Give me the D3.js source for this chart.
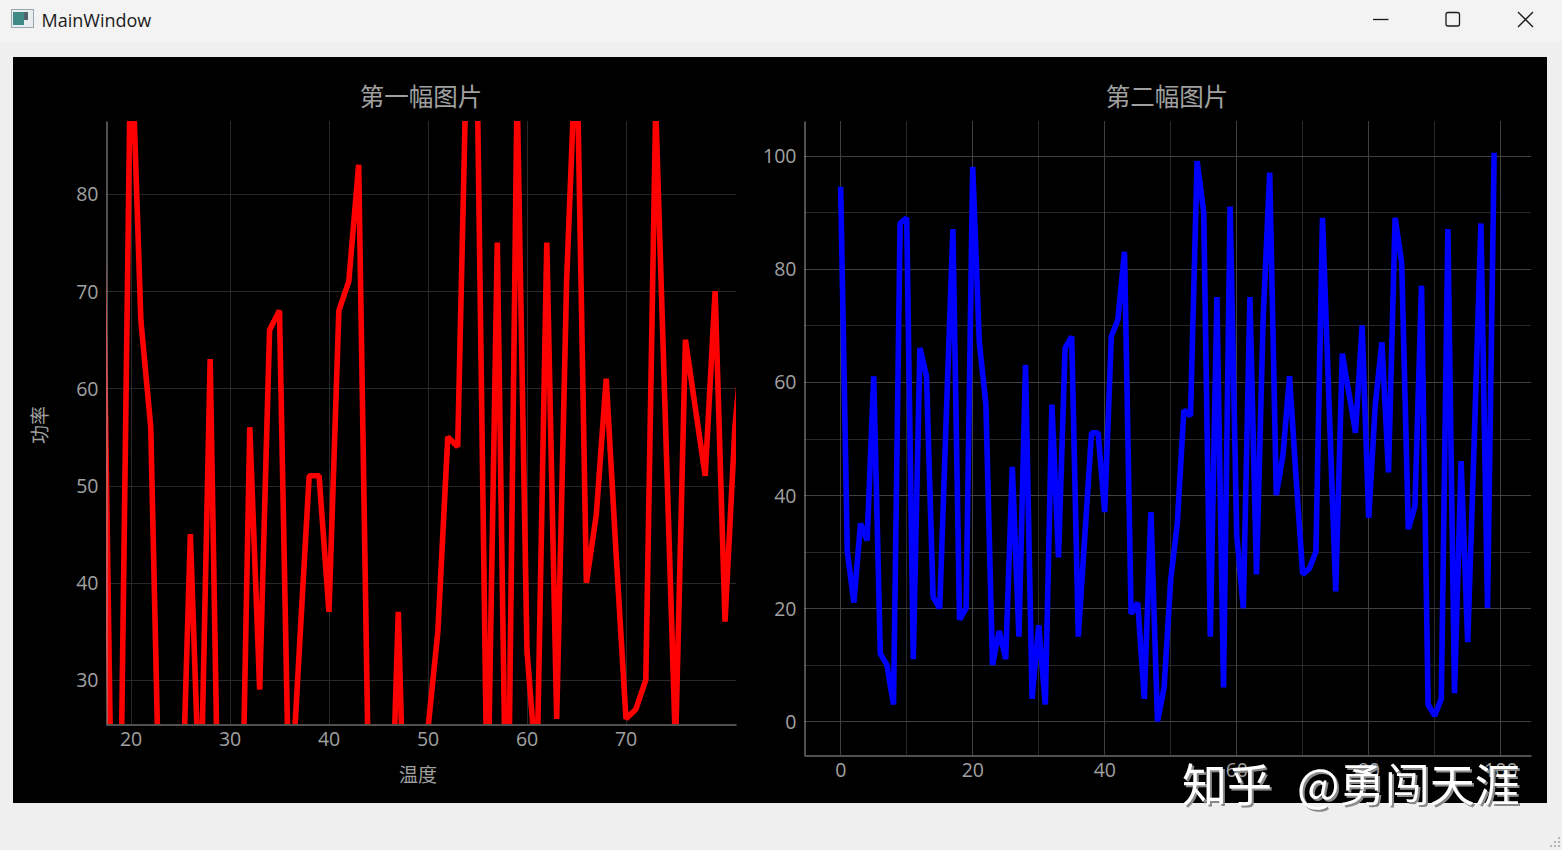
<!DOCTYPE html>
<html>
<head>
<meta charset="utf-8">
<script src="https://cdn.jsdelivr.net/npm/d3@7/dist/d3.min.js"></script>
<style>
html,body{margin:0;padding:0;background:#f0f0f0;overflow:hidden}
svg{display:block}
text{font-family:"Open Sans","Noto Sans CJK SC",sans-serif}
.cjk{font-family:"Noto Sans CJK SC",sans-serif;font-weight:400}
</style>
</head>
<body>
<svg id="c" width="1562" height="850"></svg>
<script>
const windowTitle = "MainWindow";
const titles = ["第一幅图片", "第二幅图片"];
const xLabel = "温度";
const yLabel = "功率";
const watermark = "知乎 @勇闯天涯";
const power = [94,30,21,35,32,61,12,10,3,88,89,11,66,61,22,20,54,87,18,20,
  98,67,56,10,16,11,45,15,63,4,17,3,56,29,66,68,15,33,51,51,
  37,68,71,83,19,21,4,37,0,6,25,35,55,54,99,90,15,75,6,91,
  33,20,75,26,71,97,40,47,61,43,26,27,30,89,56,23,65,58,51,70,
  36,56,67,44,89,81,34,38,77,3,1,4,87,5,46,14,50,88,20,100];
const temperature = power.map((_, i) => i);
const leftXTicks = [20,30,40,50,60,70];
const leftYTicks = [30,40,50,60,70,80];
const rightXMajor = [0,20,40,60,80,100];
const rightXMinor = [10,30,50,70,90];
const rightYMajor = [0,20,40,60,80,100];
const rightYMinor = [10,30,50,70,90];

const svg = d3.select("#c");
const FG = "#a0a0a0";

// window chrome
svg.append("rect").attr("width",1562).attr("height",850).attr("fill","#efefef");
svg.append("rect").attr("width",1562).attr("height",42).attr("fill","#f3f3f3");
svg.append("rect").attr("x",13).attr("y",57).attr("width",1534).attr("height",746).attr("fill","#000");
const icon = svg.append("g");
icon.append("rect").attr("x",11.5).attr("y",9.5).attr("width",22).attr("height",18).attr("fill","#e8eef0").attr("stroke","#9aa7ad");
icon.append("rect").attr("x",13).attr("y",12).attr("width",11).attr("height",13).attr("fill","#3f8a86");
icon.append("rect").attr("x",24).attr("y",12).attr("width",4).attr("height",8).attr("fill","#54606a");
svg.append("text").attr("x",41.5).attr("y",26.5).attr("font-size",18).attr("fill","#1a1a1a").text(windowTitle);
const btn = svg.append("g").attr("stroke","#1a1a1a").attr("fill","none").attr("stroke-width",1.3);
btn.append("line").attr("x1",1373).attr("x2",1388.5).attr("y1",19.5).attr("y2",19.5);
btn.append("rect").attr("x",1446).attr("y",12.5).attr("width",13.5).attr("height",13.5).attr("rx",2);
btn.append("line").attr("x1",1518).attr("y1",12).attr("x2",1533).attr("y2",27);
btn.append("line").attr("x1",1533).attr("y1",12).attr("x2",1518).attr("y2",27);

function panel(cfg){
  const g = svg.append("g");
  const x = d3.scaleLinear().domain(cfg.xDomain).range([cfg.left,cfg.right]);
  const y = d3.scaleLinear().domain(cfg.yDomain).range([cfg.bottom,cfg.top]);
  const grid = (vals,col) => {
    g.append("g").selectAll("line").data(vals).join("line")
      .attr("x1",d=>Math.round(x(d))+.5).attr("x2",d=>Math.round(x(d))+.5)
      .attr("y1",cfg.top).attr("y2",cfg.bottom).attr("stroke",col);
  };
  const gridY = (vals,col) => {
    g.append("g").selectAll("line").data(vals).join("line")
      .attr("y1",d=>Math.round(y(d))+.5).attr("y2",d=>Math.round(y(d))+.5)
      .attr("x1",cfg.left).attr("x2",cfg.right).attr("stroke",col);
  };
  grid(cfg.xMinor,cfg.minorCol); gridY(cfg.yMinor,cfg.minorCol);
  grid(cfg.xMajor,cfg.majorCol); gridY(cfg.yMajor,cfg.majorCol);
  const id = "clip"+cfg.name;
  svg.append("clipPath").attr("id",id).append("rect")
    .attr("x",cfg.left).attr("y",cfg.top).attr("width",cfg.right-cfg.left).attr("height",cfg.bottom-cfg.top);
  g.append("path").datum(power).attr("clip-path",`url(#${id})`)
    .attr("fill","none").attr("stroke",cfg.color).attr("stroke-width",5.6)
    .attr("stroke-linejoin","bevel").attr("stroke-linecap","square")
    .attr("d",d3.line().x((d,i)=>x(temperature[i])+.4).y(d=>y(d)));
  const ax = g.append("g").attr("transform",`translate(0,${cfg.bottom+.5})`)
    .call(d3.axisBottom(x).tickValues(cfg.xMajor).tickSize(0).tickPadding(8).tickFormat(d3.format("d")));
  const ay = g.append("g").attr("transform",`translate(${cfg.left+.5},0)`)
    .call(d3.axisLeft(y).tickValues(cfg.yMajor).tickSize(0).tickPadding(8).tickFormat(d3.format("d")));
  [ax,ay].forEach(a=>{
    a.select(".domain").attr("stroke",FG).attr("stroke-width",1);
    a.selectAll("text").attr("fill",FG).attr("font-size",19.5).attr("font-family",'"Open Sans",sans-serif');
  });
  ax.selectAll("text").attr("dy","0.7em");
  ay.selectAll("text").attr("dy","0.36em");
  g.append("text").attr("class","cjk").attr("x",cfg.titleX).attr("y",106).attr("text-anchor","middle")
    .attr("font-size",24.5).attr("fill",FG).text(cfg.title);
}

panel({name:"a",left:106,right:736,top:121,bottom:724,
  xDomain:[17.52,81.15],yDomain:[25.47,87.5],
  xMajor:leftXTicks,xMinor:[],yMajor:leftYTicks,yMinor:[],
  majorCol:"#282828",minorCol:"#1c1c1c",color:"#ff0000",title:titles[0],titleX:421});
panel({name:"b",left:804,right:1531,top:121,bottom:755,
  xDomain:[-5.5,104.65],yDomain:[-5.92,106.1],
  xMajor:rightXMajor,xMinor:rightXMinor,yMajor:rightYMajor,yMinor:rightYMinor,
  majorCol:"#404040",minorCol:"#282828",color:"#0000ff",title:titles[1],titleX:1167});

svg.append("text").attr("class","cjk").attr("x",418).attr("y",782).attr("text-anchor","middle")
  .attr("font-size",19).attr("fill",FG).text(xLabel);
svg.append("text").attr("class","cjk").attr("transform","translate(47,425) rotate(-90)").attr("text-anchor","middle")
  .attr("font-size",19).attr("fill",FG).text(yLabel);

svg.append("text").attr("class","cjk").attr("x",1182).attr("y",802)
  .attr("font-size",45).attr("font-weight",300).attr("fill","#fff").attr("word-spacing",15)
  .attr("style","filter:drop-shadow(2px 2px 0 #8a8a8a);white-space:pre")
  .text(watermark);

svg.append("g").selectAll("rect").data([[1558,841],[1554,845],[1558,845],[1550,845],[1558,837],[1554,841]]).join("rect")
  .attr("x",d=>d[0]).attr("y",d=>d[1]).attr("width",2).attr("height",2).attr("fill","#b5b5b5");
</script>
</body>
</html>
